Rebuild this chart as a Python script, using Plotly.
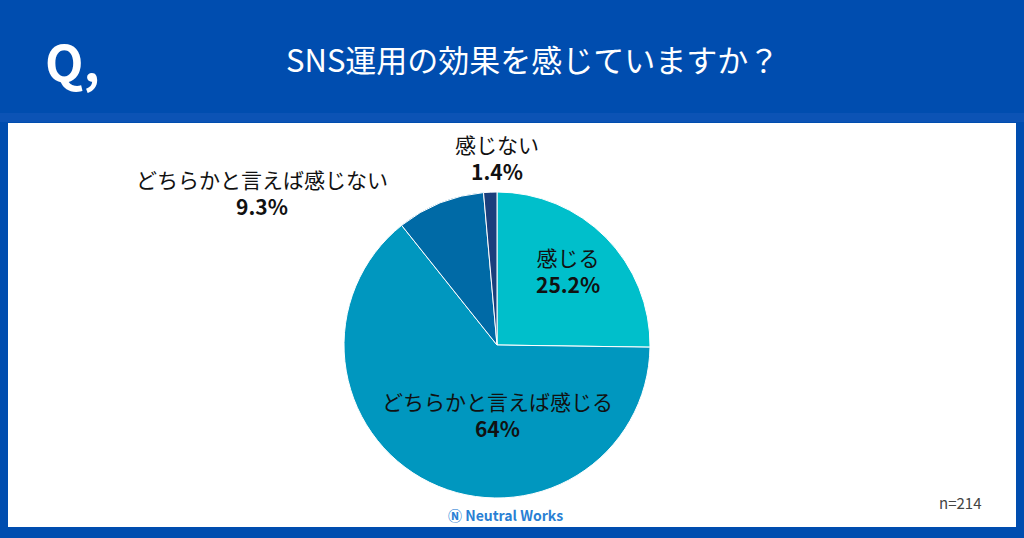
import plotly.graph_objects as go

labels = ["感じる", "どちらかと言えば感じる", "どちらかと言えば感じない", "感じない"]
values = [25.2, 64, 9.3, 1.4]
pct_text = ["25.2%", "64%", "9.3%", "1.4%"]
colors = ["#00BFCB", "#0097BF", "#006AA6", "#1B3F7C"]

W, H = 1024, 538
F = "Noto Sans CJK JP"
fig = go.Figure(go.Pie(
    labels=labels, values=values, sort=False, direction="clockwise", rotation=0,
    marker=dict(colors=colors, line=dict(color="white", width=1)),
    textinfo="none", hoverinfo="skip", showlegend=False,
    domain=dict(x=[344/W, 650/W], y=[(H-498)/H, (H-192)/H]),
))

def px(x): return x / W
def py(y): return 1 - y / H

shapes = [
    dict(type="rect", xref="paper", yref="paper", x0=0, x1=1, y0=0, y1=1,
         fillcolor="#004DAF", line_width=0, layer="below"),
    dict(type="rect", xref="paper", yref="paper", x0=px(0), x1=px(1024), y0=py(122), y1=py(113),
         fillcolor="#0C53B5", line_width=0, layer="below"),
    dict(type="rect", xref="paper", yref="paper", x0=px(8), x1=px(1016), y0=py(527), y1=py(123),
         fillcolor="white", line_width=0, layer="below"),
]
ann = [
    dict(x=px(72), y=py(60), text="<b>Q,</b>", font=dict(family=F, size=50, color="white")),
    dict(x=px(532), y=py(58), text="SNS運用の効果を感じていますか？", font=dict(family=F, size=31, color="white")),
    dict(x=px(568), y=py(270), text=labels[0] + "<br><b>" + pct_text[0] + "</b>", font=dict(family=F, size=21, color="#111")),
    dict(x=px(497), y=py(414), text=labels[1] + "<br><b>" + pct_text[1] + "</b>", font=dict(family=F, size=21, color="#111")),
    dict(x=px(262), y=py(192), text=labels[2] + "<br><b>" + pct_text[2] + "</b>", font=dict(family=F, size=21, color="#111")),
    dict(x=px(497), y=py(158), text=labels[3] + "<br><b>" + pct_text[3] + "</b>", font=dict(family=F, size=21, color="#111")),
    dict(x=px(960), y=py(502), text="n=214", font=dict(family=F, size=15, color="#444")),
    dict(x=px(505), y=py(515), text="<b>Ⓝ Neutral Works</b>", font=dict(family=F, size=14, color="#2A7FD4")),
]
for a in ann:
    a.update(xref="paper", yref="paper", showarrow=False, xanchor="center", yanchor="middle")

fig.update_layout(width=W, height=H, margin=dict(l=0, r=0, t=0, b=0),
                  paper_bgcolor="#004DAF", plot_bgcolor="#004DAF",
                  shapes=shapes, annotations=ann)
fig.write_html("out.html", config={"displayModeBar": False},
               post_script="document.body.style.margin='0';document.body.style.overflow='hidden';")
